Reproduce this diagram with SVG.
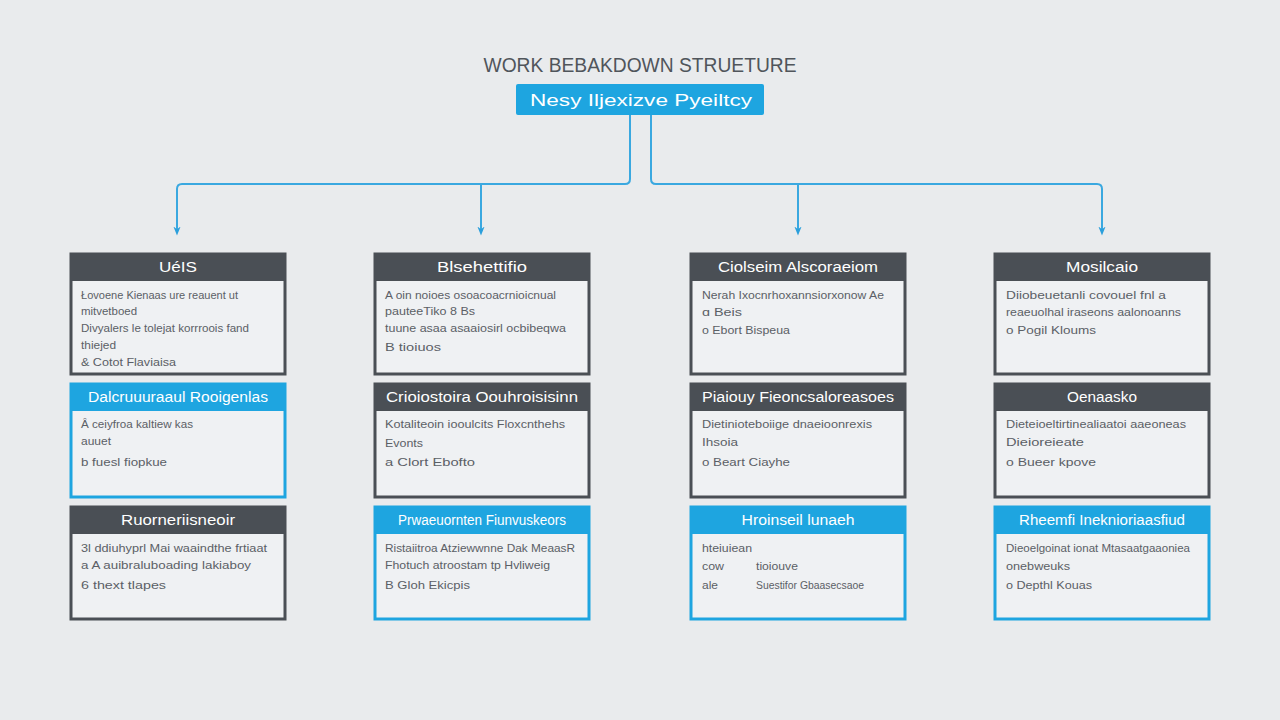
<svg xmlns="http://www.w3.org/2000/svg" width="1280" height="720" viewBox="0 0 1280 720">
<defs>
<marker id="ah" viewBox="0 0 10 10" refX="5" refY="5" markerWidth="4.5" markerHeight="4.5" orient="auto">
<path d="M0,1 L10,5 L0,9 L3,5 Z" fill="#2b9fdc"/>
</marker>
<style>
.bg{fill:#e9ebed}
.title{font-family:"Liberation Sans",Arial,sans-serif;font-size:20px;fill:#50555b;text-anchor:middle}
.root{fill:#1ea5e0}
.roott{font-family:"Liberation Sans",Arial,sans-serif;font-size:17px;fill:#ffffff;text-anchor:middle}
.conn{fill:none;stroke:#3aa8e0;stroke-width:2}
.boxd{fill:#eff1f3;stroke:#4a4f55;stroke-width:3}
.boxb{fill:#eff1f3;stroke:#1ea5e0;stroke-width:3}
.hd{fill:#4a4f55}
.hb{fill:#1ea5e0}
.ht{font-family:"Liberation Sans",Arial,sans-serif;font-size:14px;fill:#ffffff;text-anchor:middle}
.bt{font-family:"Liberation Sans",Arial,sans-serif;font-size:11px;fill:#5b6066}
</style>
</defs>
<rect class="bg" x="0" y="0" width="1280" height="720"/>
<text class="title" x="640" y="72" textLength="313" lengthAdjust="spacingAndGlyphs">WORK BEBAKDOWN STRUETURE</text>
<g id="root">
<rect class="root" x="516" y="84" width="248" height="31" rx="2"/>
<text class="roott" x="641" y="106" textLength="222" lengthAdjust="spacingAndGlyphs">Nesy Iljexizve Pyeiltcy</text>
</g>
<g id="connectors">
<path class="conn" d="M630,115 V179 Q630,184 625,184 H182 Q177,184 177,189 V231" marker-end="url(#ah)"/>
<path class="conn" d="M481,184 V231" marker-end="url(#ah)"/>
<path class="conn" d="M651,115 V179 Q651,184 656,184 H1097 Q1102,184 1102,189 V231" marker-end="url(#ah)"/>
<path class="conn" d="M798,184 V231" marker-end="url(#ah)"/>
</g>

<!-- Column 1 -->
<g id="c1r1">
<rect class="boxd" x="71" y="254" width="214" height="120"/>
<rect class="hd" x="71" y="254" width="214" height="27"/>
<text class="ht" x="178" y="272" textLength="38" lengthAdjust="spacingAndGlyphs">UéIS</text>
<text class="bt" x="81" y="299" textLength="157" lengthAdjust="spacingAndGlyphs">Łovoene Kienaas ure reauent ut</text>
<text class="bt" x="81" y="315" textLength="56" lengthAdjust="spacingAndGlyphs">mitvetboed</text>
<text class="bt" x="81" y="332" textLength="168" lengthAdjust="spacingAndGlyphs">Divyalers le tolejat korrroois fand</text>
<text class="bt" x="81" y="349" textLength="35" lengthAdjust="spacingAndGlyphs">thiejed</text>
<text class="bt" x="81" y="366" textLength="95" lengthAdjust="spacingAndGlyphs">&amp;  Cotot Flaviaisa</text>
</g>
<g id="c1r2">
<rect class="boxb" x="71" y="384" width="214" height="113"/>
<rect class="hb" x="71" y="384" width="214" height="27"/>
<text class="ht" x="178" y="402" textLength="180" lengthAdjust="spacingAndGlyphs">Dalcruuuraaul Rooigenlas</text>
<text class="bt" x="81" y="428" textLength="112" lengthAdjust="spacingAndGlyphs">Ȃ ceiyfroa kaltiew kas</text>
<text class="bt" x="81" y="445" textLength="30" lengthAdjust="spacingAndGlyphs">auuet</text>
<text class="bt" x="81" y="466" textLength="86" lengthAdjust="spacingAndGlyphs">b  fuesl fiopkue</text>
</g>
<g id="c1r3">
<rect class="boxd" x="71" y="507" width="214" height="112"/>
<rect class="hd" x="71" y="507" width="214" height="27"/>
<text class="ht" x="178" y="525" textLength="114" lengthAdjust="spacingAndGlyphs">Ruorneriisneoir</text>
<text class="bt" x="81" y="552" textLength="186" lengthAdjust="spacingAndGlyphs">3l ddiuhyprl Mai waaindthe frtiaat</text>
<text class="bt" x="81" y="569" textLength="170" lengthAdjust="spacingAndGlyphs">a A auibraluboading lakiaboy</text>
<text class="bt" x="81" y="589" textLength="85" lengthAdjust="spacingAndGlyphs">6  thext tlapes</text>
</g>

<!-- Column 2 -->
<g id="c2r1">
<rect class="boxd" x="375" y="254" width="214" height="120"/>
<rect class="hd" x="375" y="254" width="214" height="27"/>
<text class="ht" x="482" y="272" textLength="90" lengthAdjust="spacingAndGlyphs">Blsehettifio</text>
<text class="bt" x="385" y="299" textLength="171" lengthAdjust="spacingAndGlyphs">A oin noioes osoacoacrnioicnual</text>
<text class="bt" x="385" y="315" textLength="90" lengthAdjust="spacingAndGlyphs">pauteeTiko 8 Bs</text>
<text class="bt" x="385" y="332" textLength="181" lengthAdjust="spacingAndGlyphs">tuune asaa asaaiosirl ocbibeqwa</text>
<text class="bt" x="385" y="351" textLength="56" lengthAdjust="spacingAndGlyphs">B  tioiuos</text>
</g>
<g id="c2r2">
<rect class="boxd" x="375" y="384" width="214" height="113"/>
<rect class="hd" x="375" y="384" width="214" height="27"/>
<text class="ht" x="482" y="402" textLength="192" lengthAdjust="spacingAndGlyphs">Crioiostoira Oouhroisisinn</text>
<text class="bt" x="385" y="428" textLength="180" lengthAdjust="spacingAndGlyphs">Kotaliteoin iooulcits Floxcnthehs</text>
<text class="bt" x="385" y="447" textLength="38" lengthAdjust="spacingAndGlyphs">Evonts</text>
<text class="bt" x="385" y="466" textLength="90" lengthAdjust="spacingAndGlyphs">a  Clort Ebofto</text>
</g>
<g id="c2r3">
<rect class="boxb" x="375" y="507" width="214" height="112"/>
<rect class="hb" x="375" y="507" width="214" height="27"/>
<text class="ht" x="482" y="525" textLength="168" lengthAdjust="spacingAndGlyphs">Prwaeuornten Fiunvuskeors</text>
<text class="bt" x="385" y="552" textLength="190" lengthAdjust="spacingAndGlyphs">Ristaiitroa Atziewwnne Dak MeaasR</text>
<text class="bt" x="385" y="569" textLength="165" lengthAdjust="spacingAndGlyphs">Fhotuch atroostam tp Hvliweig</text>
<text class="bt" x="385" y="589" textLength="85" lengthAdjust="spacingAndGlyphs">B  Gloh Ekicpis</text>
</g>

<!-- Column 3 -->
<g id="c3r1">
<rect class="boxd" x="691" y="254" width="214" height="120"/>
<rect class="hd" x="691" y="254" width="214" height="27"/>
<text class="ht" x="798" y="272" textLength="160" lengthAdjust="spacingAndGlyphs">Ciolseim Alscoraeiom</text>
<text class="bt" x="702" y="299" textLength="182" lengthAdjust="spacingAndGlyphs">Nerah Ixocnrhoxannsiorxonow Ae</text>
<text class="bt" x="702" y="316" textLength="40" lengthAdjust="spacingAndGlyphs">ɑ Beis</text>
<text class="bt" x="702" y="334" textLength="88" lengthAdjust="spacingAndGlyphs">o  Ebort Bispeua</text>
</g>
<g id="c3r2">
<rect class="boxd" x="691" y="384" width="214" height="113"/>
<rect class="hd" x="691" y="384" width="214" height="27"/>
<text class="ht" x="798" y="402" textLength="192" lengthAdjust="spacingAndGlyphs">Piaiouy Fieoncsaloreasoes</text>
<text class="bt" x="702" y="428" textLength="170" lengthAdjust="spacingAndGlyphs">Dietinioteboiige dnaeioonrexis</text>
<text class="bt" x="702" y="446" textLength="36" lengthAdjust="spacingAndGlyphs">Ihsoia</text>
<text class="bt" x="702" y="466" textLength="88" lengthAdjust="spacingAndGlyphs">o  Beart Ciayhe</text>
</g>
<g id="c3r3">
<rect class="boxb" x="691" y="507" width="214" height="112"/>
<rect class="hb" x="691" y="507" width="214" height="27"/>
<text class="ht" x="798" y="525" textLength="113" lengthAdjust="spacingAndGlyphs">Hroinseil lunaeh</text>
<text class="bt" x="702" y="552" textLength="50" lengthAdjust="spacingAndGlyphs">hteiuiean</text>
<text class="bt" x="702" y="570" textLength="22" lengthAdjust="spacingAndGlyphs">cow</text>
<text class="bt" x="756" y="570" textLength="42" lengthAdjust="spacingAndGlyphs">tioiouve</text>
<text class="bt" x="702" y="589" textLength="16" lengthAdjust="spacingAndGlyphs">ale</text>
<text class="bt" x="756" y="589" textLength="108" lengthAdjust="spacingAndGlyphs">Suestifor Gbaasecsaoe</text>
</g>

<!-- Column 4 -->
<g id="c4r1">
<rect class="boxd" x="995" y="254" width="214" height="120"/>
<rect class="hd" x="995" y="254" width="214" height="27"/>
<text class="ht" x="1102" y="272" textLength="72" lengthAdjust="spacingAndGlyphs">Mosilcaio</text>
<text class="bt" x="1006" y="299" textLength="160" lengthAdjust="spacingAndGlyphs">Diiobeuetanli covouel fnl a</text>
<text class="bt" x="1006" y="316" textLength="175" lengthAdjust="spacingAndGlyphs">reaeuolhal iraseons aalonoanns</text>
<text class="bt" x="1006" y="334" textLength="90" lengthAdjust="spacingAndGlyphs">o  Pogil Kloums</text>
</g>
<g id="c4r2">
<rect class="boxd" x="995" y="384" width="214" height="113"/>
<rect class="hd" x="995" y="384" width="214" height="27"/>
<text class="ht" x="1102" y="402" textLength="70" lengthAdjust="spacingAndGlyphs">Oenaasko</text>
<text class="bt" x="1006" y="428" textLength="180" lengthAdjust="spacingAndGlyphs">Dieteioeltirtinealiaatoi aaeoneas</text>
<text class="bt" x="1006" y="446" textLength="78" lengthAdjust="spacingAndGlyphs">Dieioreieate</text>
<text class="bt" x="1006" y="466" textLength="90" lengthAdjust="spacingAndGlyphs">o  Bueer kpove</text>
</g>
<g id="c4r3">
<rect class="boxb" x="995" y="507" width="214" height="112"/>
<rect class="hb" x="995" y="507" width="214" height="27"/>
<text class="ht" x="1102" y="525" textLength="166" lengthAdjust="spacingAndGlyphs">Rheemfi Ineknioriaasfiud</text>
<text class="bt" x="1006" y="552" textLength="184" lengthAdjust="spacingAndGlyphs">Dieoelgoinat ionat Mtasaatgaaoniea</text>
<text class="bt" x="1006" y="570" textLength="64" lengthAdjust="spacingAndGlyphs">onebweuks</text>
<text class="bt" x="1006" y="589" textLength="86" lengthAdjust="spacingAndGlyphs">o  Depthl Kouas</text>
</g>
</svg>
